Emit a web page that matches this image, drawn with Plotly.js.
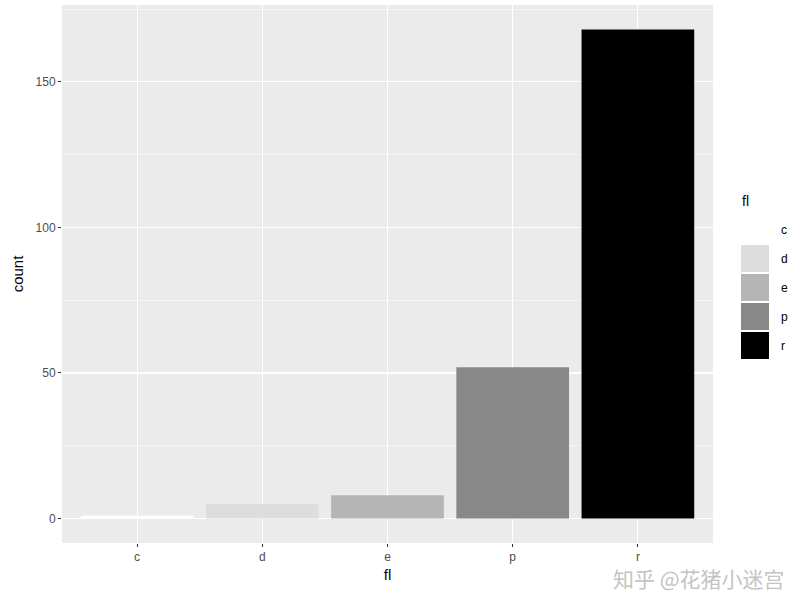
<!DOCTYPE html>
<html><head><meta charset="utf-8">
<script src="https://cdn.plot.ly/plotly-3.0.1.min.js"></script>
<style>html,body{margin:0;padding:0;background:#fff}#chart{width:805px;height:595px}</style>
</head><body><div id="chart"></div>
<script>
const categories = ['c','d','e','p','r'];
const counts = [1, 5, 8, 52, 168];
const fillColors = ['#ffffff','#dddddd','#b5b5b5','#888888','#000000'];
const yTicks = [0, 50, 100, 150];
const legendTitle = 'fl';
const xTitle = 'fl';
const yTitle = 'count';
const watermark = '知乎 @花猪小迷宫';

const W = 805, H = 595;
const M = {l: 62, r: 92, t: 5, b: 52};
const pw = W - M.l - M.r, ph = H - M.t - M.b;
const px = x => (x - M.l) / pw;
const py = y => (H - M.b - y) / ph;

const traces = categories.map((c, i) => ({
  type: 'bar', x: [c], y: [counts[i]], name: c,
  marker: {color: fillColors[i], line: {width: 0}},
  width: 0.9, showlegend: false, hoverinfo: 'x+y'
}));

const shapes = [], annotations = [];
annotations.push({xref:'paper', yref:'paper', x: px(740), y: py(201), text: legendTitle,
  showarrow:false, xanchor:'left', yanchor:'middle', font:{family:'Liberation Sans, Arial', size:14, color:'#000'}});
categories.forEach((c, i) => {
  const top = 216 + i * 29;
  shapes.push({type:'rect', xref:'paper', yref:'paper', x0: px(741), x1: px(769),
    y0: py(top + 27), y1: py(top), fillcolor: fillColors[i], line:{width:0}, layer:'above'});
  annotations.push({xref:'paper', yref:'paper', x: px(779), y: py(top + 14), text: c,
    showarrow:false, xanchor:'left', yanchor:'middle', font:{family:'Liberation Sans, Arial', size:12, color:'#000'}});
});
annotations.push({xref:'paper', yref:'paper', x: px(787), y: py(578), text: watermark,
  showarrow:false, xanchor:'right', yanchor:'middle',
  font:{family:'Noto Sans CJK SC', size:21, color:'#c4c4c4'}});

const layout = {
  width: W, height: H, margin: M,
  paper_bgcolor: '#ffffff', plot_bgcolor: '#ebebeb',
  bargap: 0.1, showlegend: false,
  font: {family: 'Liberation Sans, Arial', color: '#4d4d4d'},
  xaxis: {
    type: 'category', categoryorder: 'array', categoryarray: categories,
    range: [-0.6, 4.6], showgrid: true, gridcolor: '#ffffff', gridwidth: 1.1,
    zeroline: false, showline: false,
    ticks: 'outside', ticklen: 3, tickcolor: '#333333', tickwidth: 1,
    tickfont: {size: 12, color: '#4d4d4d'},
    title: {text: xTitle, font: {size: 15, color: '#000'}, standoff: 6}
  },
  yaxis: {
    range: [-8.4, 176.4], tickmode: 'array', tickvals: yTicks, ticktext: yTicks.map(String),
    showgrid: true, gridcolor: '#ffffff', gridwidth: 1.1,
    minor: {tickmode: 'linear', tick0: 25, dtick: 50, showgrid: true, gridcolor: '#ffffff', gridwidth: 0.5, ticks: ''},
    zeroline: false, showline: false,
    ticks: 'outside', ticklen: 3, tickcolor: '#333333', tickwidth: 1,
    tickfont: {size: 12, color: '#4d4d4d'},
    title: {text: yTitle, font: {size: 15, color: '#000'}, standoff: 8}
  },
  shapes: shapes, annotations: annotations
};

Plotly.newPlot('chart', traces, layout, {displayModeBar: false, staticPlot: true});
</script></body></html>
